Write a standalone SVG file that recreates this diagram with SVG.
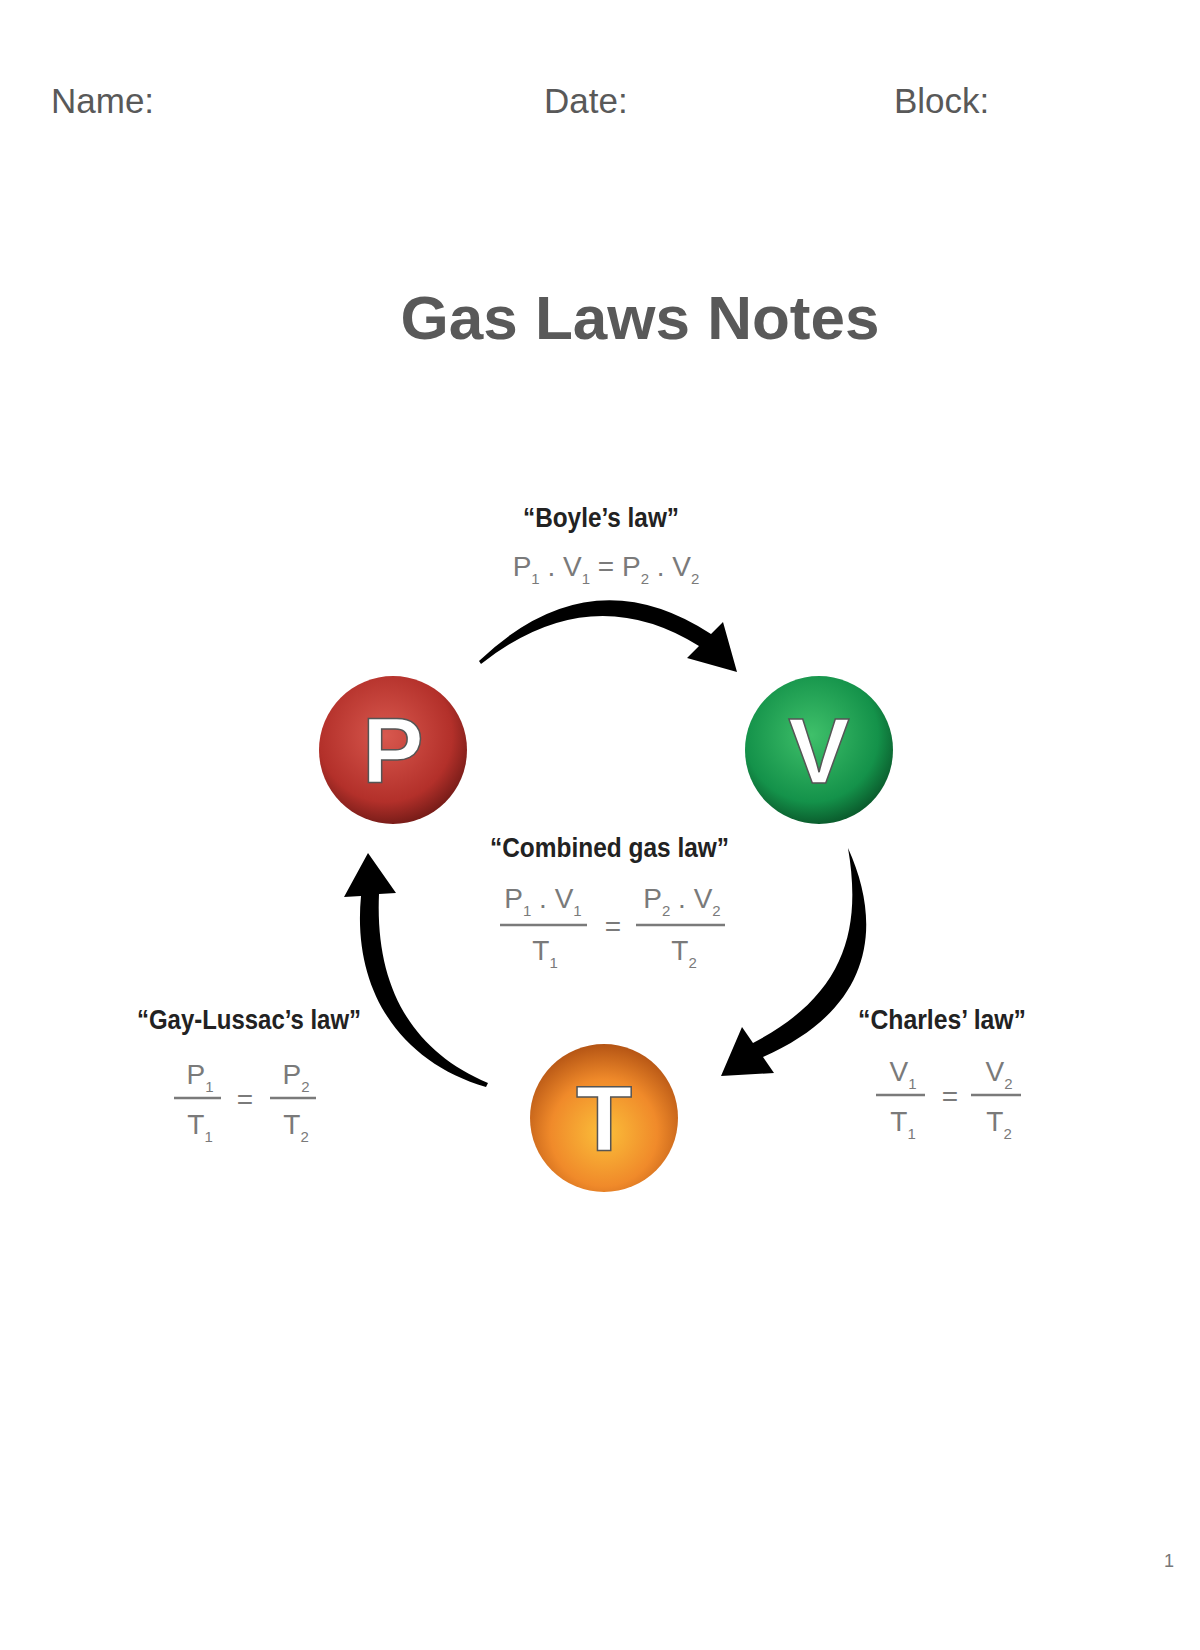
<svg xmlns="http://www.w3.org/2000/svg" width="1200" height="1650" viewBox="0 0 1200 1650">
<style>
.hdr{font-family:"Liberation Sans",Arial,sans-serif;font-size:35px;fill:#595959}
.lab{font-family:"Liberation Sans",Arial,sans-serif;font-weight:bold;font-size:27px;fill:#222}
.eq{font-family:"Liberation Sans",Arial,sans-serif;font-size:28px;fill:#7a7a7a;text-anchor:middle}
.sub{font-size:15px}
.let{font-family:"Liberation Sans",Arial,sans-serif;font-weight:bold;font-size:92px;fill:#fff;text-anchor:middle;stroke:#555;stroke-width:1.5}
.bar{stroke:#7a7a7a;stroke-width:2.5}
.arr{fill:#000}
</style>
<defs>
<radialGradient id="gP" cx="0.45" cy="0.4" r="0.6"><stop offset="0" stop-color="#d8584e"/><stop offset="0.75" stop-color="#b3302a"/><stop offset="1" stop-color="#7a1d19"/></radialGradient>
<radialGradient id="gV" cx="0.45" cy="0.4" r="0.6"><stop offset="0" stop-color="#3fc06a"/><stop offset="0.75" stop-color="#14924a"/><stop offset="1" stop-color="#0b5e2e"/></radialGradient>
<radialGradient id="gT" cx="0.5" cy="0.6" r="0.6"><stop offset="0" stop-color="#fbbf3a"/><stop offset="0.6" stop-color="#f08a2a"/><stop offset="1" stop-color="#b45414"/></radialGradient>
</defs>
<rect width="1200" height="1650" fill="#fff"/>
<text class="hdr" x="51" y="113">Name:</text>
<text class="hdr" x="544" y="113">Date:</text>
<text class="hdr" x="894" y="113">Block:</text>
<text x="640" y="339" text-anchor="middle" font-family="Liberation Sans,Arial,sans-serif" font-weight="bold" font-size="62" fill="#595959">Gas Laws Notes</text>

<g id="connectors">
<path class="arr" d="M479,661 Q590,555 711,634 L723,622 L737,672 L687,658 L699,646 Q590,578 481,664 Z"/>
<path class="arr" d="M848,848 C885,930 870,1010 763,1057 L774,1073 L721,1076 L742,1027 L753,1043 C845,995 862,930 848,848 Z"/>
<path class="arr" d="M486,1087 C400,1062 352,990 361,896 L344,897 L368,853 L396,893 L379,894 C375,985 410,1050 488,1083 Z"/>
</g>

<g id="P"><circle cx="393" cy="750" r="74" fill="url(#gP)"/><text class="let" x="393" y="783">P</text></g>
<g id="V"><circle cx="819" cy="750" r="74" fill="url(#gV)"/><text class="let" x="819" y="783">V</text></g>
<g id="T"><circle cx="604" cy="1118" r="74" fill="url(#gT)"/><text class="let" x="604" y="1151">T</text></g>

<g id="boyle">
<text class="lab" x="523" y="527" textLength="156" lengthAdjust="spacingAndGlyphs">“Boyle’s law”</text>
<text class="eq" x="606" y="576">P<tspan class="sub" dy="8">1</tspan><tspan dy="-8"> . V</tspan><tspan class="sub" dy="8">1</tspan><tspan dy="-8"> = P</tspan><tspan class="sub" dy="8">2</tspan><tspan dy="-8"> . V</tspan><tspan class="sub" dy="8">2</tspan></text>
</g>

<g id="combined">
<text class="lab" x="490" y="857" textLength="239" lengthAdjust="spacingAndGlyphs">“Combined gas law”</text>
<text class="eq" x="543" y="908">P<tspan class="sub" dy="8">1</tspan><tspan dy="-8"> . V</tspan><tspan class="sub" dy="8">1</tspan></text>
<line class="bar" x1="500" y1="925" x2="587" y2="925"/>
<text class="eq" x="545" y="960">T<tspan class="sub" dy="8">1</tspan></text>
<text class="eq" x="613" y="936">=</text>
<text class="eq" x="682" y="908">P<tspan class="sub" dy="8">2</tspan><tspan dy="-8"> . V</tspan><tspan class="sub" dy="8">2</tspan></text>
<line class="bar" x1="636" y1="925" x2="725" y2="925"/>
<text class="eq" x="684" y="960">T<tspan class="sub" dy="8">2</tspan></text>
</g>

<g id="charles">
<text class="lab" x="858" y="1029" textLength="168" lengthAdjust="spacingAndGlyphs">“Charles’ law”</text>
<text class="eq" x="903" y="1081">V<tspan class="sub" dy="8">1</tspan></text>
<line class="bar" x1="876" y1="1095" x2="925" y2="1095"/>
<text class="eq" x="903" y="1131">T<tspan class="sub" dy="8">1</tspan></text>
<text class="eq" x="950" y="1106">=</text>
<text class="eq" x="999" y="1081">V<tspan class="sub" dy="8">2</tspan></text>
<line class="bar" x1="971" y1="1095" x2="1021" y2="1095"/>
<text class="eq" x="999" y="1131">T<tspan class="sub" dy="8">2</tspan></text>
</g>

<g id="gaylussac">
<text class="lab" x="137" y="1029" textLength="224" lengthAdjust="spacingAndGlyphs">“Gay-Lussac’s law”</text>
<text class="eq" x="200" y="1084">P<tspan class="sub" dy="8">1</tspan></text>
<line class="bar" x1="174" y1="1098" x2="221" y2="1098"/>
<text class="eq" x="200" y="1134">T<tspan class="sub" dy="8">1</tspan></text>
<text class="eq" x="245" y="1109">=</text>
<text class="eq" x="296" y="1084">P<tspan class="sub" dy="8">2</tspan></text>
<line class="bar" x1="270" y1="1098" x2="316" y2="1098"/>
<text class="eq" x="296" y="1134">T<tspan class="sub" dy="8">2</tspan></text>
</g>

<text x="1164" y="1567" font-family="Liberation Sans,Arial,sans-serif" font-size="18" fill="#777">1</text>
</svg>
